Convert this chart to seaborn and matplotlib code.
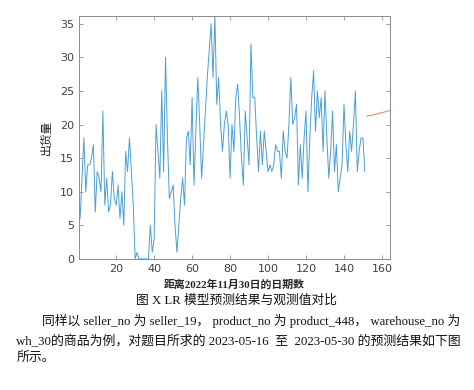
import matplotlib
matplotlib.use('Agg')
import matplotlib.pyplot as plt
import pandas as pd
import seaborn as sns

# observed shipments, day index counted from 2022-11-30
obs_day = list(range(1, 152))
obs_qty = [6, 12, 18, 10, 14, 14, 15, 17, 7, 13,
           12, 10, 22, 8, 12, 7, 8, 13, 9, 8,
           11, 6, 10, 5, 16, 13, 18, 13, 8, 0,
           1, 0, 0, 0, 0, 0, 0, 5, 1, 3,
           20, 16, 12, 25, 13, 30, 18, 9, 10, 11,
           5, 1, 5, 9, 12, 8, 18, 19, 14, 24,
           11, 19, 27, 20, 12, 17, 22, 27, 31, 35,
           27, 36.2, 23, 27, 20, 16, 20, 22, 20, 12,
           20, 16, 24, 26, 21, 15, 11, 22, 18, 14,
           32, 24, 24, 18, 13, 19, 14, 19, 16, 13,
           14, 13, 14, 17, 16, 16, 12, 19, 16, 15,
           20, 27, 20, 21, 23, 11, 17, 12, 18, 22,
           10, 18, 24, 28, 19, 25, 21, 24, 16, 25,
           18, 12, 16, 22, 13, 17, 10, 12, 14, 23,
           17, 13, 19, 16, 20, 25, 13, 16, 18, 18,
           13]

# LR prediction for 2023-05-16 .. 2023-05-30
pred_day = list(range(152, 167))
pred_qty = [21.2, 21.3, 21.35, 21.4, 21.5, 21.55, 21.6, 21.7,
            21.75, 21.85, 21.9, 22.0, 22.05, 22.1, 22.2]

obs = pd.DataFrame({'day': obs_day, 'qty': obs_qty})
pred = pd.DataFrame({'day': pred_day, 'qty': pred_qty})

sns.set_style('white')
plt.rcParams['font.family'] = ['DejaVu Sans', 'Noto Sans CJK SC']

fig = plt.figure(figsize=(4.74, 3.9), dpi=100)
ax = fig.add_axes([0.167, 0.336, 0.656, 0.624])

sns.lineplot(data=obs, x='day', y='qty', ax=ax, color='#4a9fd8', lw=0.7)
sns.lineplot(data=pred, x='day', y='qty', ax=ax, color='#e0805a', lw=0.7)

ax.set_xlim(0.5, 164.3)
ax.set_ylim(0, 36.2)
ax.set_xticks([20, 40, 60, 80, 100, 120, 140, 160])
ax.set_yticks([0, 5, 10, 15, 20, 25, 30, 35])
ax.tick_params(direction='in', length=3, width=0.6, colors='#8c8c8c',
               labelcolor='#404040', labelsize=8, top=True, right=True,
               bottom=True, left=True)
for s in ax.spines.values():
    s.set_color('#8c8c8c')
    s.set_linewidth(0.7)

cjk_serif = ['Liberation Serif', 'Noto Sans CJK SC']
ax.set_xlabel('距离2022年11月30日的日期数', fontsize=7.8, fontweight='bold',
              family=cjk_serif, labelpad=4)
ax.set_ylabel('出货量', fontsize=8.5, family=cjk_serif, labelpad=5)

fig.text(0.5, 0.229, '图 X LR 模型预测结果与观测值对比', ha='center', va='center',
         fontsize=9.2, family=cjk_serif, color='#111111')
fig.text(0.088, 0.177,
         '同样以 seller_no 为 seller_19， product_no 为 product_448， warehouse_no 为',
         ha='left', va='center', fontsize=9.2, family=cjk_serif, color='#111111')
fig.text(0.034, 0.123,
         'wh_30的商品为例，对题目所求的 2023-05-16  至  2023-05-30 的预测结果如下图',
         ha='left', va='center', fontsize=9.3, family=cjk_serif, color='#111111')
fig.text(0.034, 0.079, '所示。', ha='left', va='center', fontsize=9.3,
         family=cjk_serif, color='#111111')

fig.savefig('out.png', dpi=100)
